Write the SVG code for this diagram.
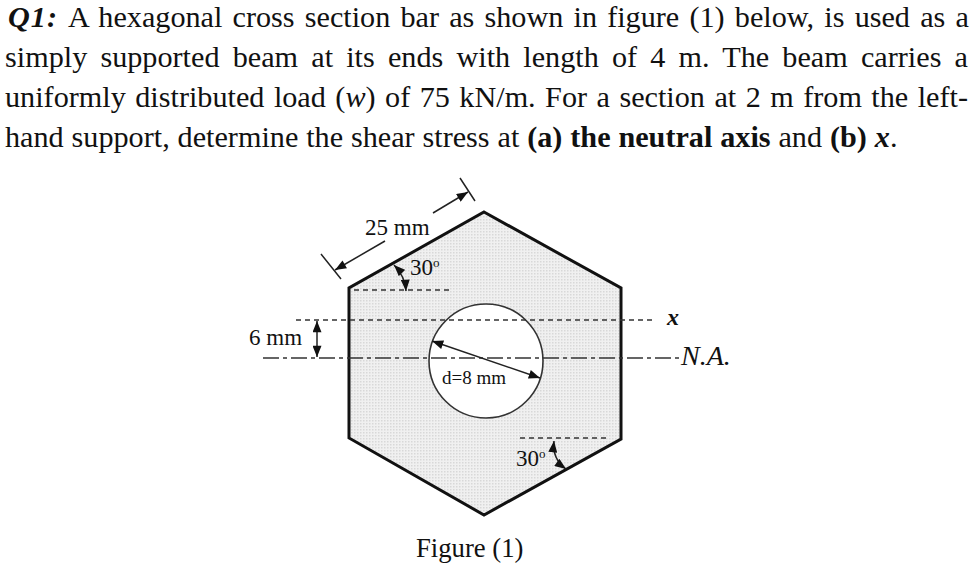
<svg xmlns="http://www.w3.org/2000/svg" width="973" height="567" viewBox="0 0 973 567">
<style>
text{font-family:"Liberation Serif","Times New Roman",serif;fill:#111}
.t{font-size:30.2px}
.d{font-size:23px}
.dash{stroke:#333;stroke-width:1.4;stroke-dasharray:5 4;fill:none}
.cl{stroke:#333;stroke-width:1.4;stroke-dasharray:16 4 4 4;fill:none}
.a{stroke:#222;stroke-width:1.5;fill:none}
.b{marker-start:url(#h);marker-end:url(#h)}
.e{marker-end:url(#h)}
</style>
<defs>
<marker id="h" viewBox="0 0 10 8" refX="10" refY="4" markerWidth="12" markerHeight="9" markerUnits="userSpaceOnUse" orient="auto-start-reverse"><path d="M0 0L10 4L0 8Z" fill="#111"/></marker>
<pattern id="dots" width="3" height="3" patternUnits="userSpaceOnUse"><rect width="3" height="3" fill="#f0f0f0"/><rect width="1.5" height="1.5" fill="#d8d8d8"/></pattern>
</defs>
<rect width="973" height="567" fill="#fff"/>
<g id="question">
<text class="t" x="8" y="27" style="word-spacing:2.63px"><tspan font-weight="bold" font-style="italic" style="letter-spacing:1px">Q1:</tspan><tspan x="68">A hexagonal cross section bar as shown in figure (1) below, is used as a</tspan></text>
<text class="t" x="5" y="67" style="word-spacing:5.6px" textLength="963" lengthAdjust="spacing">simply supported beam at its ends with length of 4 m. The beam carries a</text>
<text class="t" x="5" y="107" style="word-spacing:1.9px" textLength="963" lengthAdjust="spacing">uniformly distributed load (<tspan font-style="italic">w</tspan>) of 75 kN/m. For a section at 2 m from the left-</text>
<text class="t" x="5" y="147" style="word-spacing:0.35px">hand support, determine the shear stress at <tspan font-weight="bold">(a) the neutral axis</tspan> and <tspan font-weight="bold">(b)</tspan> <tspan font-weight="bold" font-style="italic">x</tspan>.</text>
</g>
<g id="section">
<path d="M484 212L621 288V439L484 515L349 438V288Z" fill="url(#dots)" stroke="#111" stroke-width="3" stroke-linejoin="miter"/>
<circle cx="486" cy="361" r="57" fill="#fff" stroke="#333" stroke-width="1.6"/>
</g>
<g id="connectors">
<path class="dash" d="M354 290H450"/>
<path class="dash" d="M296 320H652"/>
<path class="cl" d="M263 358H680"/>
<path class="dash" d="M520 438H608"/>
<path class="a" d="M321 254L341 279M460 178L475 201"/>
<path class="a e" d="M385 241L335 270"/>
<path class="a e" d="M433 213L468 192"/>
<path class="a b" d="M317 321V357"/>
<path class="a b" d="M432 341L540 378"/>
<path class="a b" d="M394 265Q405 276 406 291"/>
<path class="a b" d="M554 441Q552 459 566 469"/>
</g>
<g id="labels">
<text class="d" x="365" y="235">25 mm</text>
<text class="d" x="410" y="275">30<tspan font-size="13" dy="-8">o</tspan></text>
<text class="d" x="249" y="345">6 mm</text>
<text x="442" y="384" font-size="19">d=8 mm</text>
<text class="d" x="516" y="466">30<tspan font-size="13" dy="-8">o</tspan></text>
<text x="667" y="325" font-size="24" font-weight="bold" font-style="italic">x</text>
<text x="681" y="365" font-size="28" font-style="italic">N.A.</text>
<text x="416" y="557" font-size="26.7">Figure (1)</text>
</g>
</svg>
